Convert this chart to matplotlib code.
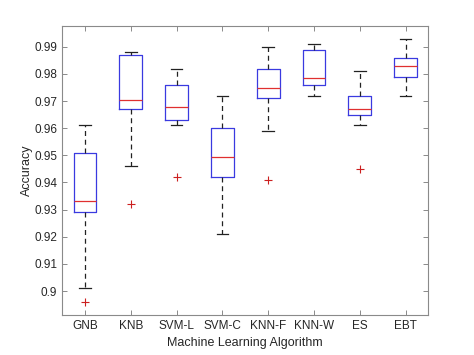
import numpy as np
import matplotlib
matplotlib.use("Agg")
import matplotlib.pyplot as plt

# values
algos = ["GNB", "KNB", "SVM-L", "SVM-C", "KNN-F", "KNN-W", "ES", "EBT"]
whislo = [0.901, 0.946, 0.961, 0.921, 0.959, 0.972, 0.961, 0.972]
q1 = [0.929, 0.967, 0.963, 0.942, 0.971, 0.976, 0.965, 0.979]
med = [0.933, 0.9705, 0.968, 0.9495, 0.975, 0.9785, 0.967, 0.983]
q3 = [0.951, 0.987, 0.976, 0.960, 0.982, 0.989, 0.972, 0.986]
whishi = [0.961, 0.988, 0.982, 0.972, 0.990, 0.991, 0.981, 0.993]
fliers = [[0.896], [0.932], [0.942], [], [0.941], [], [0.945], []]

plt.rcParams['font.family'] = ['Liberation Sans', 'DejaVu Sans']
plt.rcParams['font.size'] = 8.5

stats = []
for i in range(len(algos)):
    stats.append(dict(label=algos[i], whislo=whislo[i], q1=q1[i], med=med[i],
                      q3=q3[i], whishi=whishi[i], fliers=fliers[i]))

fig = plt.figure(figsize=(4.74, 3.55), dpi=100)
ax = fig.add_axes([0.131, 0.113, 0.773, 0.814])

ax.bxp(stats, positions=np.arange(1, len(algos) + 1), widths=0.5,
       boxprops=dict(color='#3a3ae0', linewidth=0.9),
       medianprops=dict(color='#e03030', linewidth=0.9),
       whiskerprops=dict(color='#222222', linewidth=0.9, linestyle=(0, (4, 3))),
       capprops=dict(color='#222222', linewidth=0.9),
       flierprops=dict(marker='+', markeredgecolor='#cc2020', markersize=5.5,
                       markeredgewidth=0.8, linestyle='none'))

ax.set_xlim(0.5, 8.5)
ax.set_ylim(0.8912, 0.9977)
ax.set_yticks(np.arange(0.90, 0.995, 0.01))
ax.set_yticklabels(['%g' % round(v, 2) for v in np.arange(0.90, 0.995, 0.01)])

for s in ax.spines.values():
    s.set_color('#8a8a8a')
    s.set_linewidth(0.8)
ax.tick_params(direction='in', length=3.5, width=0.7, color='#8a8a8a',
               labelcolor='#262626', top=True, right=True, labelsize=8.5)

ax.set_xlabel('Machine Learning Algorithm', color='#262626', fontsize=9, labelpad=4)
ax.set_ylabel('Accuracy', color='#262626', fontsize=9, labelpad=1)

fig.savefig('out.png', dpi=100)
